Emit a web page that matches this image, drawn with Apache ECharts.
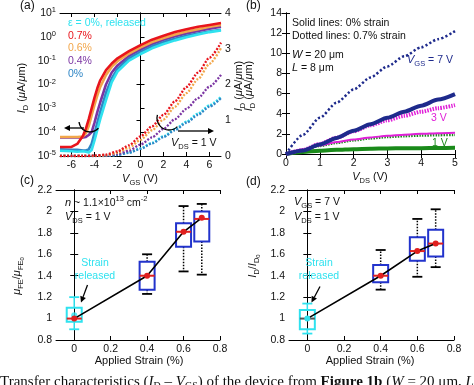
<!DOCTYPE html>
<html><head><meta charset="utf-8">
<script src="https://cdn.jsdelivr.net/npm/echarts@6/dist/echarts.min.js"></script>
<style>html,body{margin:0;padding:0;background:#fff}#c{width:474px;height:385px}</style>
</head><body><div id="c"></div>
<script>
// ---------------- DATA ----------------
// (a) transfer curves, log axis (left), VGS in V, ID in uA/um
const vgsLog = [-7,-6,-5.5,-5,-4.75,-4.5,-4.25,-4,-3.75,-3.5,-3,-2.5,-2,-1,0,1,2,3,4,5,6,7];
const idLogReleased = [1.66e-5,1.58e-5,1.51e-5,1.58e-5,1.51e-5,1.41e-5,1.78e-5,4.5e-5,1.26e-4,3.5e-4,2.2e-3,1.26e-2,3.5e-2,0.1,0.19,0.33,0.5,0.71,0.95,1.26,1.58,1.86];
const idLog07 = [2.4e-5,2.4e-5,3.2e-5,7.1e-5,1.4e-4,3.5e-4,1.0e-3,2.8e-3,7.1e-3,1.5e-2,4.0e-2,7.6e-2,0.126,0.25,0.45,0.76,1.12,1.58,2.09,2.63,3.16,3.8];
const idLog06 = [6.3e-5,6.3e-5,6.3e-5,6.6e-5,8.9e-5,1.8e-4,5.0e-4,1.4e-3,3.5e-3,7.9e-3,2.5e-2,5.6e-2,9.5e-2,0.2,0.36,0.6,0.89,1.26,1.66,2.09,2.63,3.16];
const idLog04 = [6.0e-5,6.0e-5,6.0e-5,6.0e-5,6.3e-5,7.6e-5,1.0e-4,2.5e-4,7.1e-4,1.8e-3,1.0e-2,3.2e-2,6.3e-2,0.158,0.295,0.5,0.76,1.05,1.38,1.78,2.19,2.63];
const idLog00 = [1.9e-5,1.8e-5,1.8e-5,1.7e-5,1.7e-5,1.9e-5,3.2e-5,8.9e-5,2.5e-4,7.1e-4,4.5e-3,1.8e-2,4.5e-2,0.126,0.234,0.4,0.6,0.83,1.1,1.38,1.66,2.0];
// (a) transfer curves, linear axis (right)
const vgsLin = [-7,-6,-5,-4,-3,-2,-1,0,1,2,3,4,5,6,7];
const idLinReleased = [0,0,0,0,0,0.03,0.1,0.21,0.37,0.55,0.75,0.96,1.19,1.42,1.66];
const idLin07 = [0,0,0,0.01,0.04,0.13,0.3,0.55,0.83,1.15,1.53,1.93,2.33,2.75,3.17];
const idLin06 = [0,0,0,0,0.02,0.09,0.23,0.45,0.72,1.02,1.38,1.76,2.15,2.58,3.02];
const idLin04 = [0,0,0,0,0.01,0.05,0.15,0.32,0.52,0.76,1.03,1.32,1.62,1.94,2.27];
const idLin00 = [0,0,0,0,0,0.03,0.09,0.2,0.35,0.53,0.72,0.93,1.15,1.38,1.62];
const vgsTicks = [-6,-4,-2,0,2,4,6];
const legendA = ['\u03b5 = 0%, released','0.7%','0.6%','0.4%','0%'];

// (b) output curves
const vds = [0,0.5,1,1.5,2,2.5,3,3.5,4,4.5,5];
const id7V_strained = [0,1.9,3.6,5.1,6.4,7.6,8.7,9.7,10.6,11.4,12.2];
const id7V_flat = [0,0.35,0.95,1.6,2.3,2.95,3.6,4.2,4.8,5.4,5.95];
const id3V_strained = [0,0.4,1.0,1.62,2.25,2.85,3.35,3.8,4.2,4.55,4.85];
const id3V_flat = [0,0.45,0.85,1.2,1.45,1.65,1.8,1.92,2.0,2.06,2.1];
const id1V_strained = [0,0.4,0.8,1.1,1.35,1.55,1.68,1.77,1.83,1.87,1.9];
const id1V_flat = [0,0.2,0.33,0.42,0.48,0.52,0.55,0.57,0.58,0.6,0.61];

// (c) mobility ratio box stats
const strain = [0,0.4,0.6,0.7];
const muLow = [0.9,1.23,1.44,1.41];
const muQ1 = [0.97,1.27,1.67,1.72];
const muMed = [1.0,1.4,1.81,1.93];
const muQ3 = [1.1,1.53,1.89,2.0];
const muHigh = [1.2,1.6,2.05,2.07];
const muMean = [1.0,1.4,1.81,1.94];
const muReleasedMean = 1.03;

// (d) current ratio box stats
const idLow = [0.86,1.27,1.39,1.48];
const idQ1 = [0.9,1.34,1.54,1.58];
const idMed = [1.0,1.4,1.63,1.7];
const idQ3 = [1.08,1.5,1.76,1.83];
const idHigh = [1.14,1.64,1.93,2.02];
const idMean = [1.0,1.4,1.63,1.7];
const strainTicks = [0,0.2,0.4,0.6,0.8];

// ---------------- STYLE ----------------
const F = '"Liberation Sans", Arial, sans-serif';
const SERIF = '"Liberation Serif", serif';
const C = {cyan:'#2fe2ef', red:'#e8141c', tan:'#f2a64a', purple:'#7b35a3', blue:'#2f86c6',
  navy:'#1e2a8c', mag:'#e020d8', green:'#1a8a1a', box:'#2233cc', bred:'#e0201f'};
const boxColors = [C.cyan, C.box, C.box, C.box];
const rich = {
  i:{fontStyle:'italic', fontFamily:F, fontSize:11, lineHeight:16},
  s:{fontSize:7.5, fontFamily:F, verticalAlign:'bottom', lineHeight:9},
  ss:{fontSize:6, fontFamily:F, verticalAlign:'bottom', lineHeight:6},
  p:{fontSize:7.5, fontFamily:F, verticalAlign:'top', lineHeight:9},
  b:{fontWeight:'bold', fontFamily:SERIF, fontSize:15, lineHeight:18},
  si:{fontStyle:'italic', fontFamily:SERIF, fontSize:15, lineHeight:18},
  ssub:{fontFamily:SERIF, fontSize:10, verticalAlign:'bottom', lineHeight:11}
};
const pairs = (xs, ys) => xs.map((x, i) => [x, ys[i]]);

const axBase = {
  axisLine:{lineStyle:{color:'#000', width:1}},
  axisTick:{inside:true, length:4, lineStyle:{color:'#000'}},
  splitLine:{show:false},
  axisLabel:{fontFamily:F, fontSize:10.5, color:'#111', margin:4}
};
function ax(o) { return Object.assign({}, JSON.parse(JSON.stringify(axBase)), o); }
function dup(o) { const a = ax(o); a.axisLabel = {show:false}; return a; }
const fmt1 = v => String(+v.toFixed(1));
const lab = o => Object.assign({}, axBase.axisLabel, o);
const tck = o => Object.assign({}, axBase.axisTick, o);

const xAxis = [
  ax({gridIndex:0, type:'value', min:-7, max:7, axisLabel:lab({customValues:vgsTicks}), axisTick:tck({customValues:vgsTicks})}),
  dup({gridIndex:0, type:'value', position:'top', min:-7, max:7, axisTick:tck({customValues:vgsTicks})}),
  ax({gridIndex:1, type:'value', min:0, max:5, interval:1}),
  dup({gridIndex:1, type:'value', position:'top', min:0, max:5, interval:1}),
  ax({gridIndex:2, type:'value', min:-0.1, max:0.8, axisLabel:lab({customValues:strainTicks, formatter:fmt1}), axisTick:tck({customValues:strainTicks})}),
  dup({gridIndex:2, type:'value', position:'top', min:-0.1, max:0.8, axisTick:tck({customValues:strainTicks})}),
  ax({gridIndex:3, type:'value', min:-0.1, max:0.8, axisLabel:lab({customValues:strainTicks, formatter:fmt1}), axisTick:tck({customValues:strainTicks})}),
  dup({gridIndex:3, type:'value', position:'top', min:-0.1, max:0.8, axisTick:tck({customValues:strainTicks})})
];
const yAxis = [
  ax({gridIndex:0, type:'log', logBase:10, min:1e-5, max:10,
      axisLabel:lab({lineHeight:14, rich:rich, formatter:v => '10{p|' + Math.round(Math.log10(v)) + '}'})}),
  ax({gridIndex:0, type:'value', position:'right', min:0, max:4, interval:1}),
  ax({gridIndex:1, type:'value', min:0, max:14, interval:2}),
  dup({gridIndex:1, type:'value', position:'right', min:0, max:14, interval:2}),
  ax({gridIndex:2, type:'value', min:0.8, max:2.2, interval:0.2, axisLabel:lab({formatter:fmt1})}),
  dup({gridIndex:2, type:'value', position:'right', min:0.8, max:2.2, interval:0.2}),
  ax({gridIndex:3, type:'value', min:0.8, max:2.2, interval:0.2, axisLabel:lab({formatter:fmt1})}),
  dup({gridIndex:3, type:'value', position:'right', min:0.8, max:2.2, interval:0.2})
];

function solid(xi, yi, data, color, w, sm) {
  return {type:'line', xAxisIndex:xi, yAxisIndex:yi, data, symbol:'none', smooth:sm, smoothMonotone:'x',
    lineStyle:{color, width:w, join:'round'}, silent:true};
}
function dotted(xi, yi, data, color, w, dash) {
  return {type:'line', xAxisIndex:xi, yAxisIndex:yi, data, symbol:'none', smooth:0.25, smoothMonotone:'x',
    lineStyle:{color, width:w, type:dash, cap:'butt'}, silent:true};
}
function makeBoxRender(releasedMedianColor) {
  return function (params, api) {
    const x = api.value(0);
    const lo = api.coord([x, api.value(1)]);
    const q1 = api.coord([x, api.value(2)]);
    const md = api.coord([x, api.value(3)]);
    const q3 = api.coord([x, api.value(4)]);
    const hi = api.coord([x, api.value(5)]);
    const col = boxColors[params.dataIndex];
    const rel = params.dataIndex === 0;
    const wcol = rel ? col : '#000';
    const wdash = rel ? 'solid' : [1.5, 1.5];
    const mcol = rel ? releasedMedianColor : C.bred;
    const cx = md[0], hw = 7.5, cw = 5;
    return {type:'group', children:[
      {type:'line', shape:{x1:cx, y1:q3[1], x2:cx, y2:hi[1]}, style:{stroke:wcol, lineWidth:1.5, lineDash:wdash}},
      {type:'line', shape:{x1:cx, y1:q1[1], x2:cx, y2:lo[1]}, style:{stroke:wcol, lineWidth:1.5, lineDash:wdash}},
      {type:'line', shape:{x1:cx-cw, y1:hi[1], x2:cx+cw, y2:hi[1]}, style:{stroke:wcol, lineWidth:1.8}},
      {type:'line', shape:{x1:cx-cw, y1:lo[1], x2:cx+cw, y2:lo[1]}, style:{stroke:wcol, lineWidth:1.8}},
      {type:'rect', shape:{x:cx-hw, y:q3[1], width:2*hw, height:q1[1]-q3[1]}, style:{stroke:col, fill:'none', lineWidth:2}},
      {type:'line', shape:{x1:cx-hw, y1:md[1], x2:cx+hw, y2:md[1]}, style:{stroke:mcol, lineWidth:2}}
    ]};
  };
}
function boxData(lo, q1, md, q3, hi) { return strain.map((s, i) => [s, lo[i], q1[i], md[i], q3[i], hi[i]]); }

const series = [
  // (a) log curves
  solid(0,0,pairs(vgsLog,idLog04),C.purple,2.6,false),
  solid(0,0,pairs(vgsLog,idLog00),C.blue,2.6,false),
  solid(0,0,pairs(vgsLog,idLog06),C.tan,2.6,false),
  solid(0,0,pairs(vgsLog,idLog07),C.red,2.6,false),
  solid(0,0,pairs(vgsLog,idLogReleased),C.cyan,2.6,false),
  // (a) linear curves
  dotted(0,1,pairs(vgsLin,idLinReleased),C.cyan,2.3,[2,1.5]),
  dotted(0,1,pairs(vgsLin,idLin00),C.blue,2.3,[2,1.5]),
  dotted(0,1,pairs(vgsLin,idLin04),C.purple,2.3,[2,1.5]),
  dotted(0,1,pairs(vgsLin,idLin06),C.tan,2.3,[2,1.5]),
  dotted(0,1,pairs(vgsLin,idLin07),C.red,2.3,[2,1.5]),
  // (b)
  solid(2,2,pairs(vds,id1V_flat),C.green,4,0.25),
  dotted(2,2,pairs(vds,id1V_strained),C.green,2.5,[1.5,1.2]),
  dotted(2,2,pairs(vds,id3V_strained),C.mag,4,[1.5,1.2]),
  solid(2,2,pairs(vds,id3V_flat),C.mag,2,0.25),
  solid(2,2,pairs(vds,id7V_flat),C.navy,4,0.25),
  dotted(2,2,pairs(vds,id7V_strained),C.navy,2.5,[2.2,2.2]),
  // (c)
  {type:'custom', xAxisIndex:4, yAxisIndex:4, renderItem:makeBoxRender(C.bred), data:boxData(muLow,muQ1,muMed,muQ3,muHigh), silent:true},
  {type:'line', xAxisIndex:4, yAxisIndex:4, data:pairs(strain,muMean), symbol:'circle', symbolSize:6,
    itemStyle:{color:C.bred}, lineStyle:{color:'#000', width:1.6}, z:5, silent:true},
  {type:'scatter', xAxisIndex:4, yAxisIndex:4, data:[[strain[0], muReleasedMean]], symbolSize:6, itemStyle:{color:C.cyan}, z:4, silent:true},
  // (d)
  {type:'custom', xAxisIndex:6, yAxisIndex:6, renderItem:makeBoxRender('#555'), data:boxData(idLow,idQ1,idMed,idQ3,idHigh), silent:true},
  {type:'line', xAxisIndex:6, yAxisIndex:6,
    data:pairs(strain,idMean).map((p, i) => i === 0 ? {value:p, itemStyle:{color:C.cyan}} : p),
    symbol:'circle', symbolSize:6, itemStyle:{color:C.bred}, lineStyle:{color:'#000', width:1.6}, z:5, silent:true}
];

// ---------------- ANNOTATIONS ----------------
function txt(x, y, text, o) {
  return {type:'text', x, y, z:100, silent:true, style:Object.assign({text, fill:'#111',
    fontFamily:F, fontSize:10.5, textAlign:'left', textVerticalAlign:'middle', lineHeight:16, rich:rich}, o && o.style)};
}
function vtxt(x, y, text) {
  return {type:'text', x, y, rotation:Math.PI/2, z:100, silent:true,
    style:{text, fill:'#111', fontFamily:F, fontSize:11, textAlign:'center', textVerticalAlign:'middle', lineHeight:16, rich:rich}};
}
function arrow(x1, y1, x2, y2, len, hw) {
  const dx = x2 - x1, dy = y2 - y1, L = Math.hypot(dx, dy), ux = dx / L, uy = dy / L;
  const bx = x2 - ux * len, by = y2 - uy * len;
  return [
    {type:'line', z:100, silent:true, shape:{x1, y1, x2:bx, y2:by}, style:{stroke:'#000', lineWidth:1.3}},
    {type:'polygon', z:100, silent:true, shape:{points:[[x2,y2],[bx - uy*hw, by + ux*hw],[bx + uy*hw, by - ux*hw]]}, style:{fill:'#000'}}
  ];
}
function arc(cx, cy, r, a0, a1) {
  return {type:'arc', z:100, silent:true, shape:{cx, cy, r, startAngle:a0, endAngle:a1, clockwise:true}, style:{stroke:'#000', lineWidth:1.3, fill:'none'}};
}
const legendColors = [C.cyan, C.red, C.tan, C.purple, C.blue];
const graphic = [
  txt(20, 6, '(a)', {style:{fontSize:12}}),
  txt(246, 6, '(b)', {style:{fontSize:12}}),
  txt(20, 181, '(c)', {style:{fontSize:12}}),
  txt(246, 182, '(d)', {style:{fontSize:12}}),
  // axis titles
  vtxt(22, 88, '{i|I}{s|D} ({i|\u03bc}A/{i|\u03bc}m)'),
  vtxt(239, 86, '{i|I}{s|D} ({i|\u03bc}A/{i|\u03bc}m)'),
  vtxt(249, 86, '{i|I}{s|D} ({i|\u03bc}A/{i|\u03bc}m)'),
  txt(140, 179, '{i|V}{s|GS} (V)', {style:{textAlign:'center', fontSize:11}}),
  txt(370, 177, '{i|V}{s|DS} (V)', {style:{textAlign:'center', fontSize:11}}),
  vtxt(17, 276, '{i|\u03bc}{s|FE}/{i|\u03bc}{s|FE}{ss|0}'),
  vtxt(253, 266, '{i|I}{s|D}/{i|I}{s|D}{ss|0}'),
  txt(139, 361, 'Applied Strain (%)', {style:{textAlign:'center', fontSize:11}}),
  txt(370, 361, 'Applied Strain (%)', {style:{textAlign:'center', fontSize:11}}),
  // (a) texts
  ...legendA.map((t, i) => txt(68, 23 + i * 12.8, t, {style:{fill:legendColors[i]}})),
  txt(171, 143, '{i|V}{s|DS} = 1 V'),
  ...arrow(84, 128, 64, 128, 6, 3),
  ...arrow(178, 131, 214, 131, 6, 3),
  arc(90, 121, 11, 0.7, 3.05),
  arc(169, 118, 12, 0.8, 3.4),
  // (b) texts
  txt(292, 23, 'Solid lines: 0% strain'),
  txt(292, 36, 'Dotted lines: 0.7% strain'),
  txt(292, 55, '{i|W} = 20 \u03bcm'),
  txt(292, 68, '{i|L} = 8 \u03bcm'),
  txt(407, 60, '{i|V}{s|GS} = 7 V', {style:{fill:C.navy}}),
  txt(431, 118, '3 V', {style:{fill:C.mag}}),
  txt(432, 143, '1 V', {style:{fill:C.green}}),
  // (c) texts
  txt(65, 203, '{i|n} ~ 1.1\u00d710{p|13} cm{p|-2}'),
  txt(65, 217, '{i|V}{s|DS} = 1 V'),
  txt(95, 263, 'Strain', {style:{textAlign:'center', fill:C.cyan}}),
  txt(95, 276, 'released', {style:{textAlign:'center', fill:C.cyan}}),
  ...arrow(87.5, 285, 81, 302.5, 6, 3),
  // (d) texts
  txt(294, 202, '{i|V}{s|GS} = 7 V'),
  txt(294, 217, '{i|V}{s|DS} = 1 V'),
  txt(319, 263, 'Strain', {style:{textAlign:'center', fill:C.cyan}}),
  txt(319, 276, 'released', {style:{textAlign:'center', fill:C.cyan}}),
  ...arrow(320, 286.5, 311.5, 302.5, 6, 3),
  // caption (cut off by the frame)
  {type:'text', x:0, y:373, z:100, silent:true, style:{
    text:'Transfer characteristics ({si|I}{ssub|D} \u2013 {si|V}{ssub|GS}) of the device from {b|Figure 1b} ({si|W} = 20 \u03bcm, {si|L} = 8',
    fill:'#111', fontFamily:SERIF, fontSize:15, lineHeight:18, textAlign:'left', textVerticalAlign:'top', rich:rich}}
];

const chart = echarts.init(document.getElementById('c'), null, {renderer:'canvas'});
chart.setOption({
  animation:false,
  backgroundColor:'#fff',
  textStyle:{fontFamily:F},
  grid:[
    {left:60, top:13, width:161, height:143},
    {left:286, top:13, width:169, height:141},
    {left:56, top:190, width:164, height:150},
    {left:289, top:190, width:165, height:150}
  ],
  xAxis, yAxis, series, graphic
});
</script></body></html>
